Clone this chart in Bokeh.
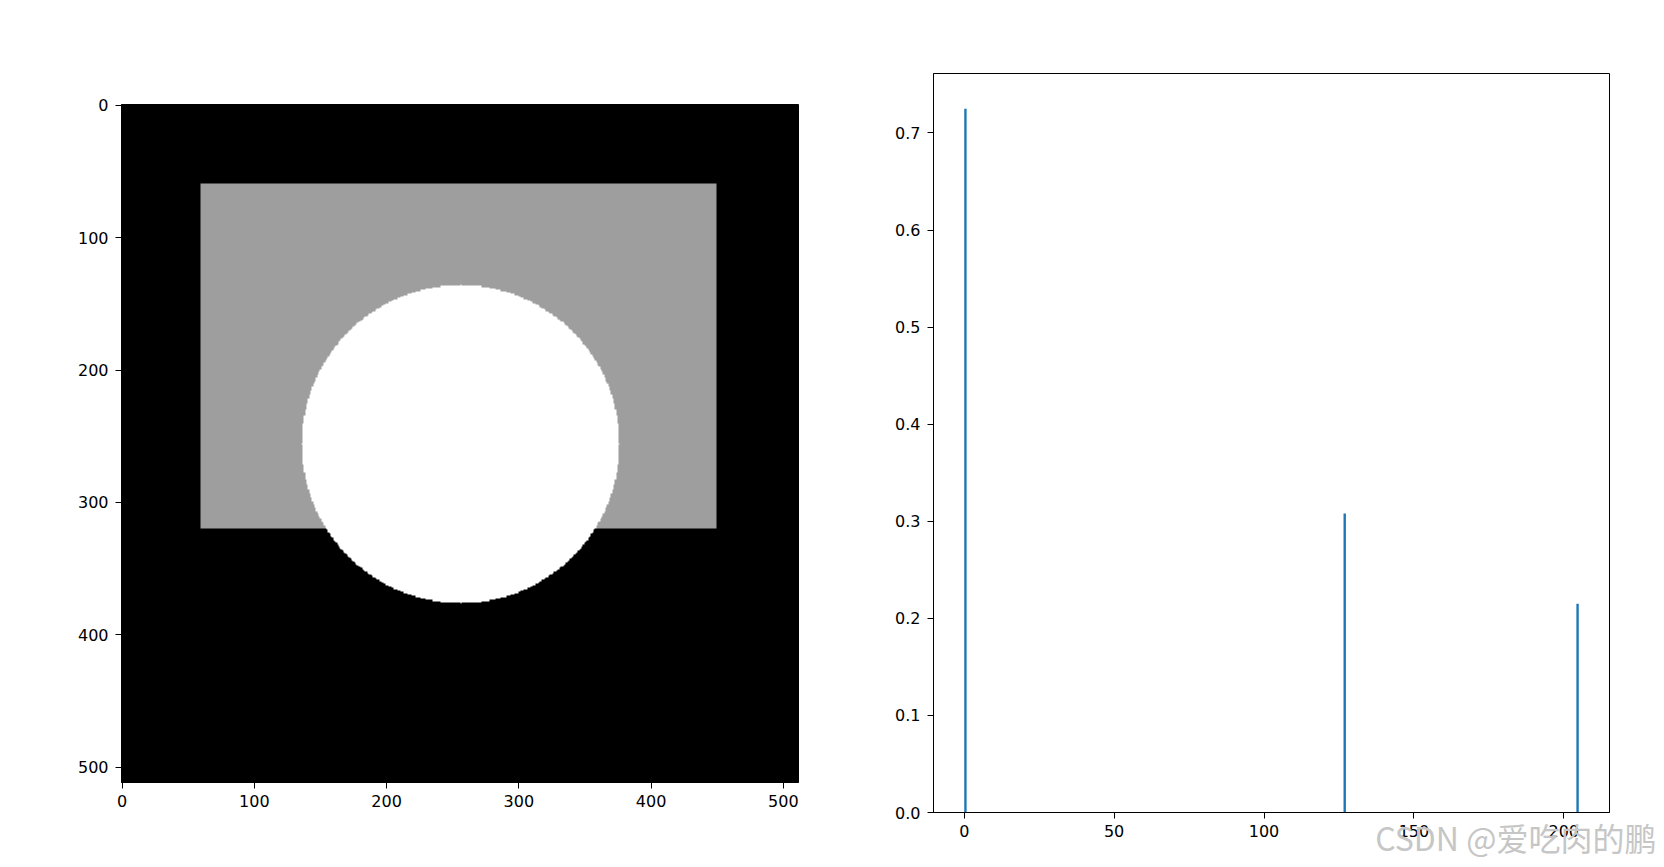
import numpy as np
from bokeh.plotting import figure
from bokeh.layouts import row, column
from bokeh.models import (Range1d, FixedTicker, PrintfTickFormatter,
                          LinearColorMapper, LinearAxis, ColumnDataSource, Spacer)
from bokeh.palettes import Greys256
from bokeh.embed import file_html
from bokeh.resources import INLINE

# ---------------- data ----------------
# synthetic grey image (values 0 / 127 / 205)
img_size = 512
background_level = 0
rect_level = 127
circle_level = 205
rect_rows = [60, 320]
rect_cols = [60, 450]
circle_center = [256, 256]   # (row, col)
circle_radius = 120

# normalised histogram
hist_levels = [0, 127, 205]
hist_density = [0.725, 0.308, 0.215]
n_bins = 256

img_ticks = [0, 100, 200, 300, 400, 500]
hist_xticks = [0, 50, 100, 150, 200]
hist_yticks = [0.0, 0.1, 0.2, 0.3, 0.4, 0.5, 0.6, 0.7]

watermark = "CSDN @爱吃肉的鹏"
watermark_x = 184.0   # centre of the watermark, in histogram x units

# ---------------- build image ----------------
yy, xx = np.mgrid[0:img_size, 0:img_size]
img = np.full((img_size, img_size), background_level, dtype=float)
img[rect_rows[0]:rect_rows[1], rect_cols[0]:rect_cols[1]] = rect_level
mask = (yy - circle_center[0]) ** 2 + (xx - circle_center[1]) ** 2 <= circle_radius ** 2
img[mask] = circle_level

TICK_FONT = "DejaVu Sans"
TICK_SIZE = "16px"


def style_axes(p):
    for ax in (p.xaxis, p.yaxis):
        ax.major_label_text_font = TICK_FONT
        ax.major_label_text_font_size = TICK_SIZE
        ax.major_label_text_color = "black"
        ax.axis_line_color = "black"
        ax.axis_line_width = 1
        ax.major_tick_line_color = "black"
        ax.major_tick_line_width = 1
        ax.major_tick_out = 6
        ax.major_tick_in = 0
        ax.minor_tick_line_color = None
    p.xaxis.major_label_standoff = 6
    p.yaxis.major_label_standoff = 7
    p.xgrid.visible = False
    p.ygrid.visible = False
    p.outline_line_color = "black"
    p.outline_line_width = 1
    p.background_fill_color = "white"
    p.border_fill_color = "white"


# ---------------- left: image ----------------
p1 = figure(output_backend="svg", toolbar_location=None,
            frame_width=677, frame_height=678,
            min_border_left=121, min_border_right=52,
            min_border_top=73, min_border_bottom=50,
            x_range=Range1d(-0.5, img_size - 0.5),
            y_range=Range1d(img_size - 0.5, -0.5))
mapper = LinearColorMapper(palette=Greys256, low=min(img.min(), 0), high=img.max())
p1.image(image=[img], x=-0.5, y=-0.5, dw=img_size, dh=img_size, color_mapper=mapper)
p1.xaxis.ticker = FixedTicker(ticks=img_ticks)
p1.yaxis.ticker = FixedTicker(ticks=img_ticks)
style_axes(p1)

# ---------------- right: histogram ----------------
bin_width = max(hist_levels) / n_bins
idx = np.minimum(np.floor(np.array(hist_levels) / bin_width), n_bins - 1)
lefts = idx * bin_width
rights = lefts + bin_width
src = ColumnDataSource(dict(left=lefts, right=rights,
                            top=hist_density, bottom=[0] * len(hist_density)))

xmin, xmax = 0, max(hist_levels)
xm = 0.05 * (xmax - xmin)
ymax = max(hist_density) * 1.05

p2 = figure(output_backend="svg", toolbar_location=None,
            frame_width=676, frame_height=739,
            min_border_left=83, min_border_right=55,
            min_border_top=73, min_border_bottom=50,
            x_range=Range1d(xmin - xm, xmax + xm),
            y_range=Range1d(0, ymax))
p2.quad(left="left", right="right", top="top", bottom="bottom", source=src,
        fill_color="#1f77b4", line_color=None)
p2.xaxis.ticker = FixedTicker(ticks=hist_xticks)
p2.yaxis.ticker = FixedTicker(ticks=hist_yticks)
p2.yaxis.formatter = PrintfTickFormatter(format="%.1f")
style_axes(p2)

# watermark, drawn as the single label of an invisible extra axis below
wm_axis = LinearAxis(ticker=FixedTicker(ticks=[watermark_x]),
                     major_label_overrides={watermark_x: watermark})
wm_axis.axis_line_color = None
wm_axis.major_tick_line_color = None
wm_axis.minor_tick_line_color = None
wm_axis.major_tick_out = 0
wm_axis.major_tick_in = 0
wm_axis.major_label_standoff = -26
wm_axis.major_label_text_font = "Noto Sans CJK SC"
wm_axis.major_label_text_font_size = "32px"
wm_axis.major_label_text_color = "#c6c6c6"
p2.add_layout(wm_axis, "below")

layout = row(column(Spacer(width=10, height=31), p1), p2)
open("out.html", "w").write(file_html(layout, INLINE))
